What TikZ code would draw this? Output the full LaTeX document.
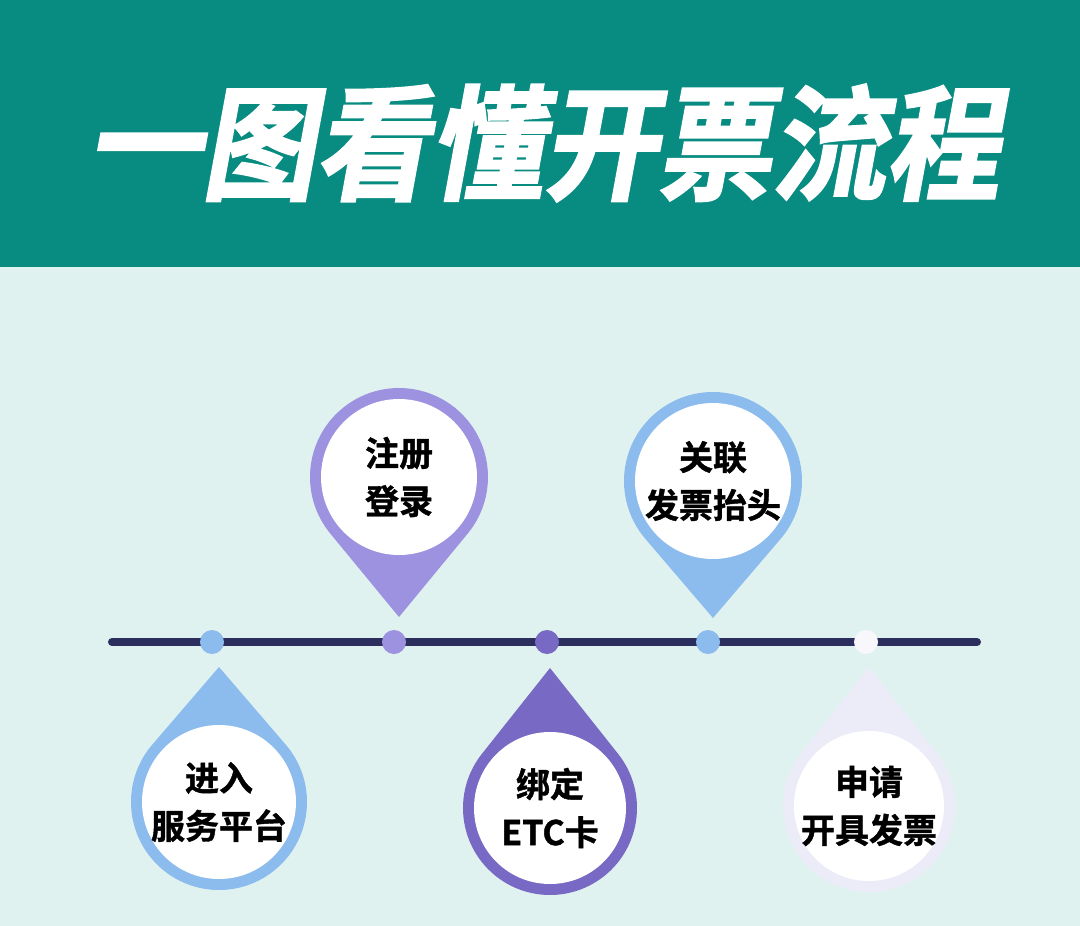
\documentclass[tikz,border=0pt]{standalone}
\usepackage{fontspec}
\usepackage{tikz}
\usetikzlibrary{calc}

\newfontfamily\cjk{Noto Sans CJK SC}[BoldFont={* Bold}, BoldFeatures={FakeBold=1.2}]
\newfontfamily\titlefont{Noto Sans CJK SC}[UprightFont={* Bold}, FakeSlant=0.2, FakeBold=2]

\definecolor{headteal}{HTML}{088B81}
\definecolor{mintbg}{HTML}{E0F2F0}
\definecolor{navyline}{HTML}{2C2E5E}
\definecolor{pinblue}{HTML}{8CBBEE}
\definecolor{pinlilac}{HTML}{9C92E0}
\definecolor{pinpurple}{HTML}{7769C4}
\definecolor{pinpale}{HTML}{ECECF8}

\tikzset{
  pintext/.style={font=\cjk\bfseries\fontsize{34}{48}\selectfont, align=center, text=black},
  dot/.style={circle, minimum size=24, inner sep=0pt},
}

% drop shaped marker: name, x, y, radius, tip y, colour
\newcommand{\droppin}[6]{%
  \pgfmathsetmacro\pindist{abs(#5-#3)}
  \pgfmathsetmacro\pinang{acos(#4/\pindist)}
  \pgfmathsetmacro\pindir{(#5>#3) ? 90 : -90}
  \coordinate (#1) at (#2,#3);
  \coordinate (#1tip) at (#2,#5);
  \fill[#6] (#1tip) -- ([shift={(\pindir+\pinang:#4)}]#1)
    arc[start angle=\pindir+\pinang, end angle=\pindir-\pinang+360, radius=#4] -- cycle;
  \fill[white] (#1) circle[radius=#4-11];
}

\begin{document}
\begin{tikzpicture}[x=1pt, y=-1pt]
    \useasboundingbox (0,0) rectangle (1080,926);

    % background and header
    \fill[mintbg] (0,0) rectangle (1080,926);
    \fill[headteal] (0,0) rectangle (1080,267);
    \node[text=white, xscale=0.92, font=\titlefont\fontsize{124}{124}\selectfont] (title) at (543,143) {一图看懂开票流程};

    % markers above the line
    \droppin{regpin}{399}{477}{89}{617}{pinlilac}
    \droppin{linkpin}{713}{481}{89}{618}{pinblue}

    % markers below the line
    \droppin{enterpin}{219}{802}{88}{667}{pinblue}
    \droppin{bindpin}{550}{808}{87}{668}{pinpurple}
    \droppin{applypin}{869}{806}{86}{667}{pinpale}

    % time line
    \coordinate (lstart) at (112,642);
    \coordinate (lend) at (977,642);
    \draw[navyline, line width=8, line cap=round] (lstart) -- (lend);

    \node[dot, fill=pinblue] (d1) at (212,642) {};
    \node[dot, fill=pinlilac] (d2) at (394,642) {};
    \node[dot, fill=pinpurple] (d3) at (547,642) {};
    \node[dot, fill=pinblue] (d4) at (708,642) {};
    \node[dot, fill=pinpale!40!white] (d5) at (866,642) {};

    % texts
    \node[pintext] (regtext) at (regpin) {注册\\登录};
    \node[pintext] (linktext) at (linkpin) {关联\\发票抬头};
    \node[pintext] (entertext) at (enterpin) {进入\\服务平台};
    \node[pintext] (bindtext) at (bindpin) {绑定\\ETC卡};
    \node[pintext] (applytext) at (applypin) {申请\\开具发票};
\end{tikzpicture}
\end{document}
